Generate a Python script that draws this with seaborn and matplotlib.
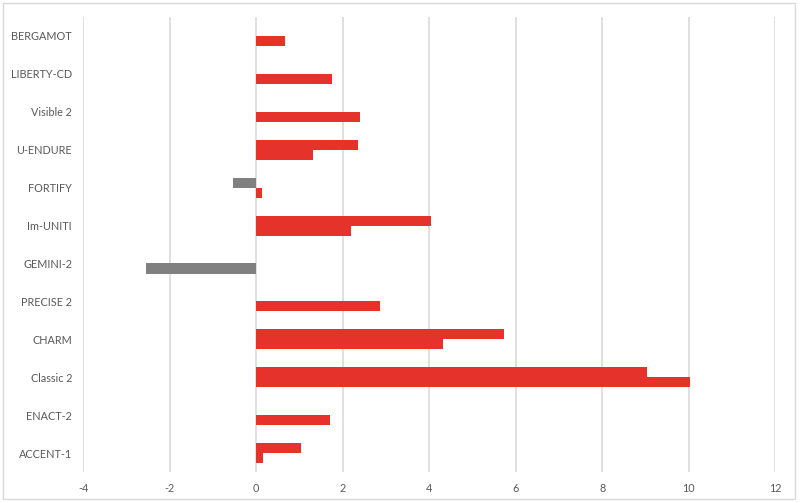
import numpy as np
import pandas as pd
import matplotlib
matplotlib.use('Agg')
import matplotlib.pyplot as plt
import seaborn as sns
from matplotlib.patches import Rectangle

# Data (top to bottom)
trials = ['BERGAMOT', 'LIBERTY-CD', 'Visible 2', 'U-ENDURE', 'FORTIFY', 'Im-UNITI',
          'GEMINI-2', 'PRECISE 2', 'CHARM', 'Classic 2', 'ENACT-2', 'ACCENT-1']
upper_vals = [np.nan, np.nan, np.nan, 2.35, -0.53, 4.04,
              np.nan, np.nan, 5.72, 9.03, np.nan, 1.04]
lower_vals = [0.67, 1.76, 2.39, 1.31, 0.14, 2.19,
              -2.55, 2.87, 4.31, 10.02, 1.70, 0.15]
x_ticks = [-4, -2, 0, 2, 4, 6, 8, 10, 12]

RED = '#E5322A'
GREY = '#808080'

df = pd.DataFrame({
    'trial': trials * 2,
    'value': upper_vals + lower_vals,
    'slot': ['upper'] * len(trials) + ['lower'] * len(trials),
})

sns.set_style('white')
plt.rcParams['font.family'] = ['Lato', 'DejaVu Sans']

fig = plt.figure(figsize=(8, 5.03), dpi=100)
ax = fig.add_axes([0.104, 0.0616, 0.865, 0.9046])

sns.barplot(data=df, x='value', y='trial', hue='slot', order=trials,
            hue_order=['upper', 'lower'], orient='h', width=0.53,
            palette=[RED, RED], errorbar=None, legend=False, ax=ax,
            saturation=1)

# negative bars are grey
for p in ax.patches:
    w = p.get_width()
    if np.isfinite(w) and w < 0:
        p.set_facecolor(GREY)
    p.set_edgecolor('none')

ax.set_xlim(-4, 12)
ax.set_ylim(11.5, -0.5)
ax.set_xticks(x_ticks)
ax.set_xticklabels([str(t) for t in x_ticks])
ax.set_xlabel('')
ax.set_ylabel('')
ax.set_axisbelow(True)
ax.xaxis.grid(True, color='#DDDDDD', linewidth=1.3)
ax.yaxis.grid(False)
for s in ax.spines.values():
    s.set_visible(False)
ax.tick_params(axis='both', length=0, labelsize=7.8, colors='#595959')
ax.tick_params(axis='y', pad=8)
ax.tick_params(axis='x', pad=8)

# light frame around the whole chart
fig.patches.append(Rectangle((3 / 800, 4 / 503), 792 / 800, 496 / 503,
                             transform=fig.transFigure, fill=False,
                             edgecolor='#D9D9D9', linewidth=1.0))

fig.savefig('out.png', dpi=100)
